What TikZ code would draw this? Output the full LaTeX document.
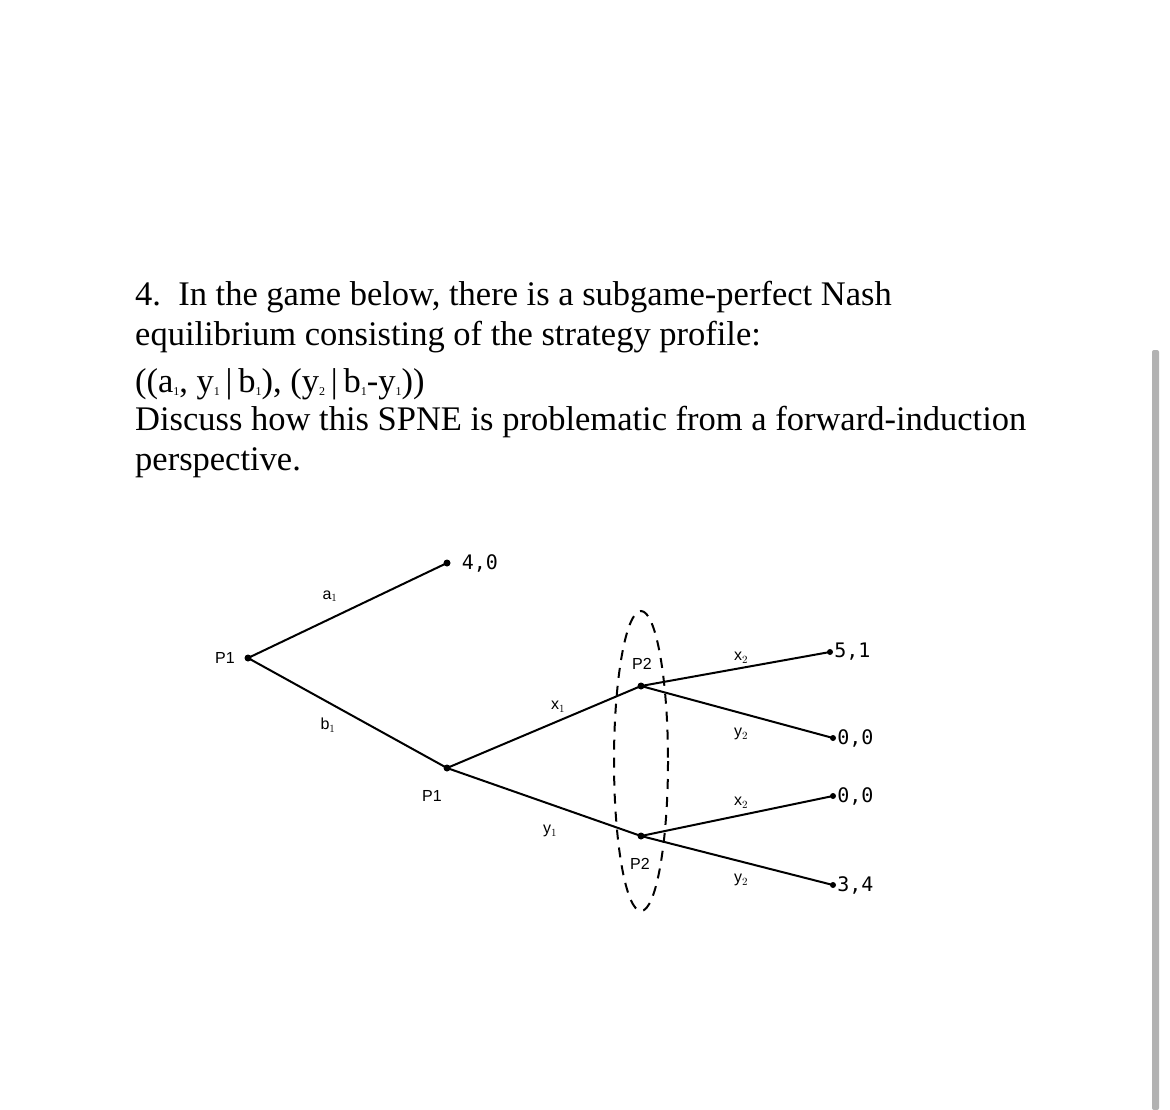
\documentclass[tikz,border=0pt]{standalone}
\usepackage{fontspec}
\setmainfont{Liberation Serif}
\setsansfont{Liberation Sans}
\newfontfamily\payfont{DejaVu Sans Mono}
\newcommand{\sbs}[1]{\raisebox{-3pt}{\fontsize{12}{12}\selectfont #1}}
\begin{document}
\begin{tikzpicture}[x=1pt,y=-1pt,
  ttl/.style={anchor=base west,inner sep=0pt,font=\fontsize{34.5}{40}\selectfont},
  lbl/.style={font=\sffamily\fontsize{16}{18}\selectfont,inner sep=0pt},
  pay/.style={anchor=west,font=\payfont\fontsize{20}{24}\selectfont,inner sep=1pt},
  dot/.style={circle,fill,inner sep=0pt,minimum size=7pt},
  br/.style={line width=2pt}]
\useasboundingbox (0,0) rectangle (1170,1110);
\fill[white] (0,0) rectangle (1170,1110);
\fill[gray!60,rounded corners=2pt] (1152,350) rectangle (1159,1110);
\node[ttl] (t1) at (135,305) {4.\ \ In the game below, there is a subgame-perfect Nash};
\node[ttl] (t2) at (135,345) {equilibrium consisting of the strategy profile:};
\node[ttl] (t3) at (135,392) {((a\sbs{1}, y\sbs{1}\,|\,b\sbs{1}), (y\sbs{2}\,|\,b\sbs{1}-y\sbs{1}))};
\node[ttl] (t4) at (135,430) {Discuss how this SPNE is problematic from a forward-induction};
\node[ttl] (t5) at (135,470) {perspective.};
\node[dot] (r) at (248,658) {};
\node[dot] (a) at (447,563) {};
\node[dot] (m) at (447,768) {};
\node[dot] (u) at (641,686) {};
\node[dot] (l) at (641,836) {};
\node[dot,minimum size=6pt] (t1e) at (830,652) {};
\node[dot,minimum size=6pt] (t2e) at (833,738) {};
\node[dot,minimum size=6pt] (t3e) at (833,796) {};
\node[dot,minimum size=6pt] (t4e) at (833,885) {};
\draw[br] (r.center)--(a.center) (r.center)--(m.center) (m.center)--(u.center) (m.center)--(l.center)
 (u.center)--(t1e.center) (u.center)--(t2e.center) (l.center)--(t3e.center) (l.center)--(t4e.center);
\draw[line width=2pt,dash pattern=on 10pt off 8pt] (641,761) ellipse (27 and 150);
\node[pay] at (a.east) [xshift=10pt] {4,0};
\node[pay] at (t1e.east) {5,1};
\node[pay] at (t2e.east) {0,0};
\node[pay] at (t3e.east) {0,0};
\node[pay] at (t4e.east) {3,4};
\node[lbl] at (225,658) {P1};
\node[lbl] at (432,796) {P1};
\node[lbl] at (642,664) {P2};
\node[lbl] at (640,864) {P2};
\node[lbl] at (330,596) {a$_1$};
\node[lbl] at (328,725) {b$_1$};
\node[lbl] at (558,707) {x$_1$};
\node[lbl] at (550,831) {y$_1$};
\node[lbl] at (741,658) {x$_2$};
\node[lbl] at (741,734) {y$_2$};
\node[lbl] at (741,803) {x$_2$};
\node[lbl] at (741,880) {y$_2$};
\end{tikzpicture}
\end{document}
